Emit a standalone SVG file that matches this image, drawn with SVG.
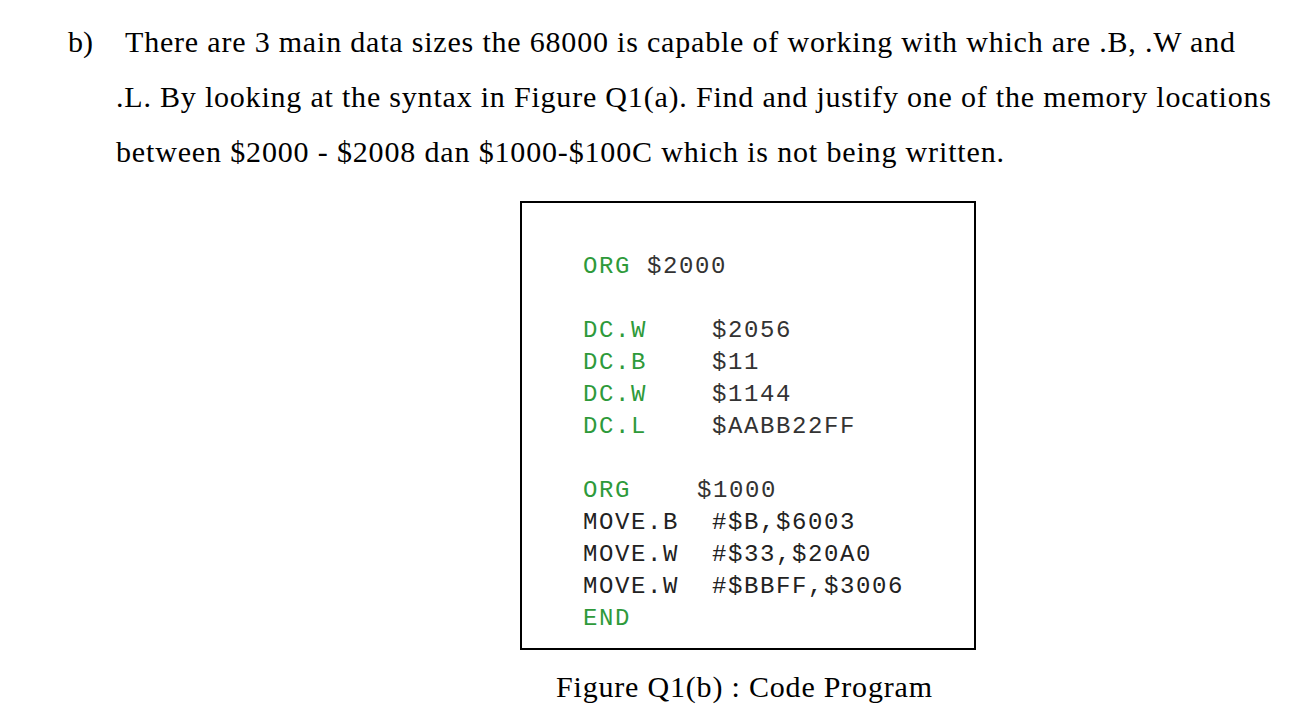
<svg xmlns="http://www.w3.org/2000/svg" width="1301" height="706" viewBox="0 0 1301 706">
<style>
.t{font-family:"Liberation Serif",serif;font-size:30px;fill:#000}
.c{font-family:"Liberation Mono",monospace;font-size:24px;letter-spacing:1.6px;fill:#333}
.g{fill:#2e9a3a}
.k{fill:#222}
</style>
<rect width="1301" height="706" fill="#fff"/>
<text class="t" x="68" y="52">b)</text>
<text class="t" x="125" y="52" textLength="1110">There are 3 main data sizes the 68000 is capable of working with which are .B, .W and</text>
<text class="t" x="116" y="107" textLength="1155">.L. By looking at the syntax in Figure Q1(a). Find and justify one of the memory locations</text>
<text class="t" x="116" y="162" textLength="888">between $2000 - $2008 dan $1000-$100C which is not being written.</text>
<rect x="521" y="202" width="454" height="447" fill="none" stroke="#000" stroke-width="2"/>
<g class="c">
<text x="583" y="273"><tspan class="g">ORG</tspan> $2000</text>
<text x="583" y="337" class="g">DC.W</text><text x="712" y="337">$2056</text>
<text x="583" y="369" class="g">DC.B</text><text x="712" y="369">$11</text>
<text x="583" y="401" class="g">DC.W</text><text x="712" y="401">$1144</text>
<text x="583" y="433" class="g">DC.L</text><text x="712" y="433">$AABB22FF</text>
<text x="583" y="497" class="g">ORG</text><text x="697" y="497">$1000</text>
<text x="583" y="529" class="k">MOVE.B</text><text x="712" y="529" class="k">#$B,$6003</text>
<text x="583" y="561" class="k">MOVE.W</text><text x="712" y="561" class="k">#$33,$20A0</text>
<text x="583" y="593" class="k">MOVE.W</text><text x="712" y="593" class="k">#$BBFF,$3006</text>
<text x="583" y="625" class="g">END</text>
</g>
<text class="t" x="556" y="697" textLength="376">Figure Q1(b) : Code Program</text>
</svg>
